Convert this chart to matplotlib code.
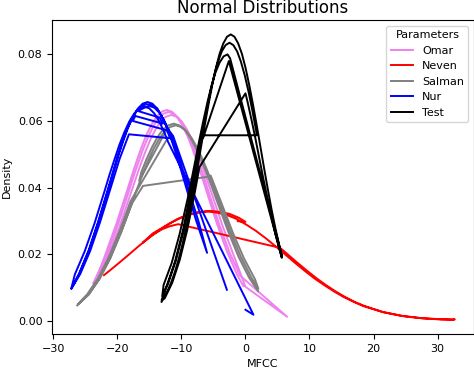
import matplotlib
matplotlib.use('Agg')
import matplotlib.pyplot as plt

# MFCC values (in plotted order) and density
omar_x = [-23.77, -21.54, -19.95, -18.36, -17.57, -16.77, -15.98, -15.18, -14.39, -13.59, -12.8, -12.0,
          -11.2, -10.41, -9.61, -8.82, -8.03, -7.23, -6.44, -5.64, -4.05, -2.46, -0.87, 6.5, 0.0,
          -1.93, -3.54, -5.15, -5.96, -6.76, -7.57, -8.38, -9.18, -9.99, -10.79, -11.6, -12.41, -13.21,
          -14.02, -14.83, -15.63, -16.44, -17.24, -18.05, -19.66, -21.28, -22.89, -23.53,
          -21.75, -20.18, -18.6, -17.81, -17.03, -16.24, -15.45, -14.66, -13.88, -13.09, -12.3, -11.51,
          -10.73, -9.94, -9.15, -8.36, -7.58, -6.79, -6.0, -4.43, -2.85, -1.28, -0.33]
omar_y = [0.0113, 0.0204, 0.0287, 0.0380, 0.0428, 0.0473, 0.0516, 0.0553, 0.0584, 0.0608, 0.0622, 0.0627,
          0.0622, 0.0608, 0.0584, 0.0553, 0.0516, 0.0473, 0.0428, 0.0380, 0.0287, 0.0204, 0.0136, 0.0012, 0.0102,
          0.0201, 0.0283, 0.0375, 0.0421, 0.0466, 0.0508, 0.0545, 0.0576, 0.0599, 0.0613, 0.0618, 0.0613, 0.0599,
          0.0576, 0.0545, 0.0508, 0.0466, 0.0421, 0.0375, 0.0283, 0.0201, 0.0134, 0.0112,
          0.0206, 0.0290, 0.0384, 0.0432, 0.0478, 0.0521, 0.0559, 0.0590, 0.0613, 0.0628, 0.0633, 0.0628,
          0.0613, 0.0590, 0.0559, 0.0521, 0.0478, 0.0432, 0.0384, 0.0290, 0.0206, 0.0137, 0.0104]

neven_x = [-22.1, -21.25, -19.73, -18.2, -16.68, -15.15, -13.63, -12.1, -10.58, -9.05, -7.53, -6.0,
           -4.48, -2.95, -1.43, 0.1, 1.63, 3.15, 4.68, 6.2, 7.73, 9.25, 10.78, 12.3, 13.83, 15.35,
           16.88, 18.4, 21.45, 24.5, 27.55, 30.6, 32.7,
           32.3, 27.5, 24.5, 21.5, 18.5, 17.0, 15.5, 14.0, 12.5, 11.0, 9.5, 8.0, 6.5, 5.42,
           -10.5, -11.8, -13.0, -14.5, -16.0, -14.5, -13.0, -11.5, -10.0, -8.5, -7.0, -5.5, -4.0,
           -2.5, -1.0, 0.0, -1.2]
neven_y = [0.0137, 0.0150, 0.0174, 0.0199, 0.0224, 0.0248, 0.0270, 0.0289, 0.0306, 0.0318, 0.0325, 0.0328,
           0.0325, 0.0318, 0.0306, 0.0289, 0.0270, 0.0248, 0.0224, 0.0199, 0.0174, 0.0150, 0.0127, 0.0107,
           0.0088, 0.0071, 0.0057, 0.0044, 0.0026, 0.0014, 0.00075, 0.00036, 0.0004,
           0.0003, 0.00076, 0.00146, 0.0026, 0.0045, 0.0057, 0.0072, 0.0089, 0.0108, 0.0129, 0.0152,
           0.0176, 0.0201, 0.0219,
           0.0290, 0.0284, 0.0275, 0.0258, 0.0235, 0.0262, 0.0279, 0.0296, 0.0310, 0.0320, 0.0327,
           0.0330, 0.0327, 0.0321, 0.0309, 0.0297, 0.0299]

salman_x = [-26.27, -24.5, -22.8, -21.1, -19.4, -17.7, -16.85, -16.0, -15.15, -14.3, -13.45, -12.6,
            -11.75, -10.9, -10.05, -9.2, -8.35, -7.5, -6.65, -5.8, -4.95, -4.1, -2.4, -0.7, 1.0, 2.02,
            1.48, -0.25, -1.98, -3.7, -5.43, -6.0, -16.0, -17.7, -19.4, -21.1, -22.8, -24.5, -26.2,
            -26.05, -24.7, -23.01, -21.33, -19.64, -17.95, -11.7, -12.3, -16.6, -16.26, -15.42, -14.58,
            -13.73, -12.89, -12.04, -11.2, -10.36, -9.51, -8.67, -7.83, -6.98, -6.14, -5.29, -4.45,
            -2.76, -1.08, 0.61, 1.96]
salman_y = [0.0046, 0.0079, 0.0127, 0.0191, 0.0269, 0.0356, 0.0400, 0.0443, 0.0483, 0.0518, 0.0547, 0.0569,
            0.0582, 0.0587, 0.0582, 0.0569, 0.0547, 0.0518, 0.0483, 0.0443, 0.0400, 0.0356, 0.0269, 0.0191,
            0.0127, 0.0096, 0.0125, 0.0188, 0.0265, 0.0351, 0.0436, 0.0432, 0.0405, 0.0353, 0.0266, 0.0188,
            0.0125, 0.0078, 0.0049, 0.0052, 0.0080, 0.0128, 0.0192, 0.0271, 0.0359, 0.0563, 0.0575, 0.0420,
            0.0447, 0.0487, 0.0522, 0.0552, 0.0574, 0.0587, 0.0592, 0.0587, 0.0574, 0.0552, 0.0522, 0.0487,
            0.0447, 0.0404, 0.0359, 0.0271, 0.0192, 0.0128, 0.0089]

nur_x = [-2.9, -11.3, -12.27, -13.02, -13.78, -14.54, -15.3, -16.06, -16.82, -17.58, -18.34, -19.09,
         -19.85, -20.61, -21.37, -22.89, -24.41, -25.92, -27.2,
         -25.82, -24.27, -22.73, -21.18, -19.64, -18.2, -11.7, -12.3, -17.6, -17.2, -12.9, -13.4, -16.8,
         -15.77, -15.0, -14.23, -13.46, -12.68, -11.91, -11.14, -10.37, -9.59, -8.82, -7.28, -6.0,
         -7.71, -9.23, -9.99, -10.75, -11.51, -12.27, -13.02, -13.78, -14.6, -15.5,
         -16.25, -17.0, -17.75, -18.5, -19.25, -20.0, -20.75, -21.5, -23.0, -24.5, -26.0, -27.2,
         -26.65, -25.1, -23.55, -22.0, -21.23, -20.45, -19.68, -18.9, -18.13, -17.35, -16.58, -15.8,
         -15.03, -14.25, -13.48, -12.7, -12.08, 1.25, 0.0]
nur_y = [0.0093, 0.0555, 0.0580, 0.0612, 0.0637, 0.0652, 0.0657, 0.0652, 0.0637, 0.0612, 0.0580, 0.0540,
         0.0496, 0.0448, 0.0398, 0.0301, 0.0213, 0.0142, 0.0096,
         0.0140, 0.0209, 0.0295, 0.0391, 0.0487, 0.0560, 0.0548, 0.0572, 0.0600, 0.0615, 0.0592, 0.0610,
         0.0630, 0.0640, 0.0645, 0.0640, 0.0625, 0.0601, 0.0569, 0.0531, 0.0487, 0.0440, 0.0391, 0.0295,
         0.0204, 0.0301, 0.0398, 0.0448, 0.0496, 0.0540, 0.0580, 0.0612, 0.0637, 0.0648, 0.0650,
         0.0645, 0.0630, 0.0606, 0.0574, 0.0535, 0.0491, 0.0443, 0.0394, 0.0298, 0.0211, 0.0141, 0.0097,
         0.0139, 0.0209, 0.0294, 0.0390, 0.0439, 0.0485, 0.0529, 0.0567, 0.0599, 0.0623, 0.0638, 0.0643,
         0.0638, 0.0623, 0.0599, 0.0567, 0.0537, 0.0018, 0.0033]

test_x = [-13.1, -12.16, -11.58, -11.0, -10.42, -9.84, -9.26, -8.68, -8.1, -7.52, -6.94, -6.36, -5.78,
          -5.2, -4.62, -4.04, -3.46, -2.88, -2.3, -1.72, -1.14, -0.56, 0.02, 0.6, 1.18, 1.76, 2.34,
          2.92, 3.5, 4.08, 4.66, 5.24, 5.68,
          -2.4, -2.8, -3.42, -4.05, -4.67, -5.3, -5.92, -6.54, -7.17, -7.79, -8.41, -9.04, -10.29,
          -11.53, -12.78, -13.0,
          -12.06, -10.87, -9.67, -8.48, -7.88, -7.28, -6.68, -6.09, -5.49, -4.89, -4.29, -3.7, -3.1,
          -2.5, -1.9, -1.3, -0.71, -0.11, 0.49, 1.09, 1.8,
          -6.8, -7.4, -8.0, -8.6, -9.8, -11.0, -12.2, -13.1,
          -12.62, -11.44, -10.26, -9.08, -7.9, -7.19,
          0.0, 0.32, 0.94, 1.57, 2.19, 2.81, 3.44, 4.69, 5.68, -2.6, -6.6]
test_y = [0.0057, 0.0090, 0.0116, 0.0148, 0.0186, 0.0230, 0.0279, 0.0334, 0.0394, 0.0457, 0.0522, 0.0587,
          0.0649, 0.0707, 0.0759, 0.0802, 0.0833, 0.0853, 0.0860, 0.0853, 0.0833, 0.0802, 0.0759, 0.0707,
          0.0649, 0.0587, 0.0522, 0.0457, 0.0394, 0.0334, 0.0279, 0.0230, 0.0196,
          0.0788, 0.0800, 0.0794, 0.0775, 0.0746, 0.0706, 0.0658, 0.0604, 0.0546, 0.0485, 0.0425, 0.0366,
          0.0260, 0.0173, 0.0108, 0.0074,
          0.0113, 0.0181, 0.0271, 0.0382, 0.0443, 0.0506, 0.0569, 0.0630, 0.0687, 0.0737, 0.0778, 0.0809,
          0.0828, 0.0835, 0.0828, 0.0809, 0.0778, 0.0737, 0.0687, 0.0630, 0.0557,
          0.0557, 0.0500, 0.0438, 0.0378, 0.0268, 0.0178, 0.0110, 0.0062,
          0.0067, 0.0114, 0.0183, 0.0274, 0.0387, 0.0461,
          0.0683, 0.0658, 0.0604, 0.0546, 0.0485, 0.0425, 0.0366, 0.0260, 0.0189, 0.0780, 0.0550]

fig = plt.figure(figsize=(4.74, 3.71), dpi=100)
ax = fig.add_axes([0.11, 0.0997, 0.89, 0.846])

ax.plot(omar_x, omar_y, color='violet', lw=1.4, label='Omar')
ax.plot(neven_x, neven_y, color='red', lw=1.4, label='Neven')
ax.plot(salman_x, salman_y, color='gray', lw=1.4, label='Salman')
ax.plot(nur_x, nur_y, color='blue', lw=1.4, label='Nur')
ax.plot(test_x, test_y, color='black', lw=1.4, label='Test')

ax.set_title('Normal Distributions', fontsize=12, pad=5)
ax.set_xlabel('MFCC', fontsize=8)
ax.set_ylabel('Density', fontsize=8)
ax.tick_params(labelsize=8)
ax.legend(title='Parameters', loc='upper right', fontsize=8, title_fontsize=8)

fig.savefig('out.png', dpi=100)
